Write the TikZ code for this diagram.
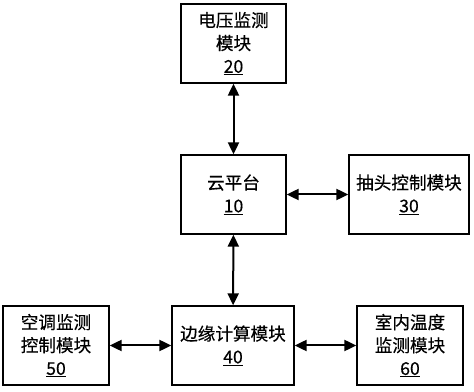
\documentclass[tikz,border=0pt]{standalone}
\usepackage{fontspec}
\setmainfont{Noto Sans CJK SC}[FakeBold=0.4]
\usetikzlibrary{arrows.meta}
\pgfdeclarelayer{edgelayer}
\pgfdeclarelayer{nodelayer}
\pgfsetlayers{edgelayer,nodelayer,main}
\tikzstyle{none}=[inner sep=0pt]
\tikzstyle{edge}=[draw=black, line width=2pt, {Triangle[length=12pt,width=11pt]}-{Triangle[length=12pt,width=11pt]}]
\tikzstyle{module}=[rectangle, fill=white, draw=black, line width=1.3pt, align=center, inner sep=0pt, minimum height=79pt, font=\fontsize{17.6}{23}\selectfont]

\begin{document}
\begin{tikzpicture}[x=1pt, y=1pt]
	\useasboundingbox (0, 0) rectangle (474, 391);
	\begin{pgfonlayer}{nodelayer}
		\node [style=module, minimum width=105pt] (20) at (233.5, 347.5) {电压监测\\模块\\\underline{20}};
		\node [style=module, minimum width=105pt] (10) at (233.5, 196.5) {云平台\\\underline{10}};
		\node [style=module, minimum width=120pt] (30) at (409, 196.5) {抽头控制模块\\\underline{30}};
		\node [style=module, minimum width=106pt] (50) at (56, 45.5) {空调监测\\控制模块\\\underline{50}};
		\node [style=module, minimum width=122pt] (40) at (233, 45.5) {边缘计算模块\\\underline{40}};
		\node [style=module, minimum width=106pt] (60) at (410, 45.5) {室内温度\\监测模块\\\underline{60}};
	\end{pgfonlayer}
	\begin{pgfonlayer}{edgelayer}
		\draw [style=edge] (20) to (10);
		\draw [style=edge] (10) to (30);
		\draw [style=edge] (10) to (40);
		\draw [style=edge] (50) to (40);
		\draw [style=edge] (40) to (60);
	\end{pgfonlayer}
\end{tikzpicture}
\end{document}
